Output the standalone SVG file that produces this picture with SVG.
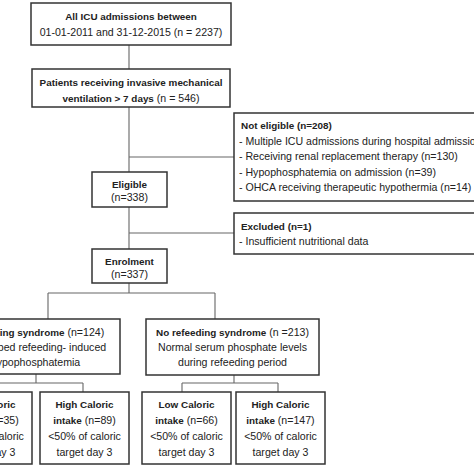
<svg xmlns="http://www.w3.org/2000/svg" width="474" height="474" viewBox="0 0 474 474">
<style>
.box{fill:#fff;stroke:#333;stroke-width:1.5}
.ln{fill:none;stroke:#666;stroke-width:1.1}
text{font-family:"Liberation Sans",Arial,sans-serif;font-size:10.6px;fill:#222}
.c{text-anchor:middle}
.b{font-weight:bold;font-size:9.9px}
</style>
<rect width="474" height="474" fill="#fff"/>
<g id="connectors">
<path class="ln" d="M129,45V69M129,107V172M129,207V249M129,283V293M129,157H234M129,233H234"/>
<path class="ln" d="M48,293H215M48,293V319M215,293V319"/>
<path class="ln" d="M36,374V383M-12,383H83M-12,383V392M83,383V392"/>
<path class="ln" d="M234,375V383M182,383H278M182,383V392M278,383V392"/>
</g>
<g id="n1"><rect class="box" x="31" y="3" width="200" height="42"/>
<text class="c b" x="131" y="19.5">All ICU admissions between</text>
<text class="c" x="131" y="35.5">01-01-2011 and 31-12-2015 (n = 2237)</text></g>
<g id="n2"><rect class="box" x="32" y="69" width="198" height="38"/>
<text class="c b" x="131" y="85.5">Patients receiving invasive mechanical</text>
<text class="c" x="131" y="101.5"><tspan class="b">ventilation &gt; 7 days</tspan> (n = 546)</text></g>
<g id="n3"><rect class="box" x="234" y="113" width="260" height="88"/>
<text class="b" x="241" y="129">Not eligible (n=208)</text>
<text x="239" y="144.5">- Multiple ICU admissions during hospital admission</text>
<text x="239" y="160">- Receiving renal replacement therapy (n=130)</text>
<text x="239" y="175.5">- Hypophosphatemia on admission  (n=39)</text>
<text x="239" y="191">- OHCA receiving therapeutic hypothermia (n=14)</text></g>
<g id="n4"><rect class="box" x="92" y="172" width="75" height="35"/>
<text class="c b" x="129.5" y="187.5">Eligible</text>
<text class="c" x="129.5" y="200.5">(n=338)</text></g>
<g id="n5"><rect class="box" x="234" y="213" width="260" height="41"/>
<text class="b" x="241" y="229.5">Excluded (n=1)</text>
<text x="239" y="244.5">- Insufficient nutritional data</text></g>
<g id="n6"><rect class="box" x="92" y="249" width="75" height="34"/>
<text class="c b" x="129.5" y="264.5">Enrolment</text>
<text class="c" x="129.5" y="277.5">(n=337)</text></g>
<g id="n7"><rect class="box" x="-53" y="319" width="173" height="55"/>
<text class="c" x="35.5" y="335.5"><tspan class="b">Refeeding syndrome</tspan> (n=124)</text>
<text class="c" x="35.5" y="350.5">Developed refeeding- induced</text>
<text class="c" x="35.5" y="365.5">hypophosphatemia</text></g>
<g id="n8"><rect class="box" x="146" y="319" width="173" height="56"/>
<text class="c" x="232.5" y="335.5"><tspan class="b">No refeeding syndrome</tspan> (n =213)</text>
<text class="c" x="232.5" y="350.5">Normal serum phosphate levels</text>
<text class="c" x="232.5" y="365.5">during refeeding period</text></g>
<g id="n9"><rect class="box" x="-57" y="392" width="89" height="72"/>
<text class="c b" x="-12.5" y="407.5">Low Caloric</text>
<text class="c" x="-12.5" y="423.5"><tspan class="b">intake</tspan> (n=35)</text>
<text class="c" x="-12.5" y="439.5">&lt;50% of caloric</text>
<text class="c" x="-12.5" y="455.5">target day 3</text></g>
<g id="n10"><rect class="box" x="40" y="392" width="89" height="72"/>
<text class="c b" x="84.5" y="407.5">High Caloric</text>
<text class="c" x="84.5" y="423.5"><tspan class="b">intake</tspan> (n=89)</text>
<text class="c" x="84.5" y="439.5">&lt;50% of caloric</text>
<text class="c" x="84.5" y="455.5">target day 3</text></g>
<g id="n11"><rect class="box" x="142" y="392" width="89" height="72"/>
<text class="c b" x="186.5" y="407.5">Low Caloric</text>
<text class="c" x="186.5" y="423.5"><tspan class="b">intake</tspan> (n=66)</text>
<text class="c" x="186.5" y="439.5">&lt;50% of caloric</text>
<text class="c" x="186.5" y="455.5">target day 3</text></g>
<g id="n12"><rect class="box" x="236" y="392" width="89" height="72"/>
<text class="c b" x="280.5" y="407.5">High Caloric</text>
<text class="c" x="280.5" y="423.5"><tspan class="b">intake</tspan> (n=147)</text>
<text class="c" x="280.5" y="439.5">&lt;50% of caloric</text>
<text class="c" x="280.5" y="455.5">target day 3</text></g>
</svg>
